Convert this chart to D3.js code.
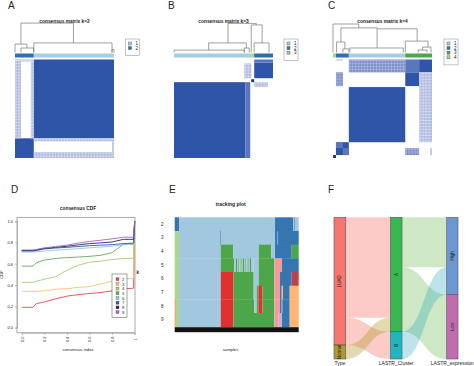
<!DOCTYPE html>
<html>
<head>
<meta charset="utf-8">
<script src="https://d3js.org/d3.v7.min.js"></script>
<style>
  html, body { margin: 0; padding: 0; background: #fff; }
  svg { display: block; }
  text { font-family: "Liberation Sans", Arial, sans-serif; fill: #222; }
</style>
</head>
<body>
<div id="chart"></div>
<script>
const width = 474,
  height = 366;

// --- consensus matrices: all positions are sample ranks 0-100
// blocks are [rank x0, x1, rank y0, y1, kind]
const blocksA = [
  [19, 100, 0, 80, "solid"], [0, 19, 80, 100, "solid"],
  [0, 6, 0, 80, "speckle"], [16, 19, 2, 80, "speckle"], [0, 19, 0, 2, "speckle"],
  [19, 100, 80, 83, "speckle"], [19, 100, 94, 100, "speckle"], [98, 100, 83, 94, "speckle"]
];
const blocksB = [
  [0, 72, 23, 100, "solid"], [72, 77, 23, 100, "medium"], [81, 100, 3, 19, "solid"], [81, 100, 0, 3, "medium"],
  [78, 81, 20, 23, "dark"], [71, 78, 4, 19, "speckle"], [81, 95, 23, 28, "speckle"]
];
const blocksC = [
  [16, 73, 28, 84, "solid"], [73, 87, 13, 27, "solid"], [87, 100, 0, 13, "solid"],
  [73, 87, 0, 13, "medium"], [16, 73, 0, 13, "deep"], [87, 100, 13, 84, "speckle"],
  [3, 10, 13, 27, "deep"], [3, 16, 84, 97, "solid"], [3, 10, 84, 90, "medium"], [10, 16, 90, 97, "medium"],
  [73, 87, 90, 97, "deep"], [0, 3, 97, 100, "dark"], [3, 10, 0, 1, "speckle"], [98, 100, 90, 97, "speckle"]
];

// annotation bars: [end rank, colour]
const barA = [[19, "#2f6fb0"], [100, "#a6cee3"]];
const barB = [[78, "#a6cee3"], [81, "#a8d58a"], [100, "#2f6fb0"]];
const barC = [[3, "#a8d58a"], [16, "#2f6fb0"], [73, "#a6cee3"], [100, "#4ea64a"]];

// dendrogram merges: [left rank, right rank, height, left base, right base]
const treeA = [
  [6, 59, .98, .28, .32], [0, 12, .28, 0, .15], [6, 19, .15, 0, 0], [19, 98, .32, 0, 0], [98, 100, .1, 0, 0]
];
const treeB = [
  [54.5, 83, .97, .31, .92], [78, 89, .92, 0, .32], [81, 96, .32, 0, 0],
  [35, 73, .32, .08, .15], [0, 71, .08, 0, 0], [71, 76, .15, 0, 0]
];
const treeC = [
  [0, 26, .95, 0, .82], [8, 44.5, .82, .35, .79], [3.5, 12, .35, 0, .12], [10, 16, .12, 0, 0],
  [44.5, 85, .79, .15, .38], [17, 71, .15, 0, 0], [73, 96, .38, 0, .18], [90.5, 99, .18, .08, 0], [86, 95, .08, 0, 0]
];

const legendA = [["1", "#a6cee3"], ["2", "#2f6fb0"]];
const legendB = [["1", "#a6cee3"], ["2", "#2f6fb0"], ["3", "#a8d58a"]];
const legendC = [["1", "#a6cee3"], ["2", "#2f6fb0"], ["3", "#4ea64a"], ["4", "#a8d58a"]];

// --- CDF curves
const cdfX = [0, .1, .13, .2, .3, .4, .5, .6, .7, .8, .9, .99, 1];
const cdf2 = [.19, .19, .225, .24, .27, .295, .31, .32, .33, .345, .365, .37, 1];
const cdf3 = [.34, .34, .341, .345, .36, .365, .378, .385, .41, .437, .46, .462, 1];
const cdf4 = [.425, .425, .435, .455, .478, .54, .585, .615, .625, .64, .65, .652, 1];
const cdf5 = [.578, .578, .61, .635, .65, .658, .663, .67, .68, .705, .785, .785, 1];
const cdf6 = [.71, .71, .713, .72, .728, .735, .742, .75, .757, .765, .78, .79, 1];
const cdf7 = [.72, .72, .725, .74, .748, .755, .762, .77, .775, .78, .79, .795, 1];
const cdf8 = [.725, .725, .73, .745, .755, .765, .778, .79, .797, .805, .83, .83, 1];
const cdf9 = [.73, .73, .735, .75, .762, .775, .795, .81, .822, .835, .85, .85, 1];
const cdfSeries = [cdf2, cdf3, cdf4, cdf5, cdf6, cdf7, cdf8, cdf9];
const cdfLabels = ["2", "3", "4", "5", "6", "7", "8", "9"];
const cdfColors = ["#e8454f", "#fdc06f", "#a3cf72", "#5fb04e", "#90c6e2", "#2a5aa8", "#2c2070", "#a463b8"];

// --- tracking plot: samples ranked 0-372, each row is [end rank, colour key]
const trackRows = ["2", "3", "4", "5", "6", "7", "8", "9"];
const trackColors = {
  lb: "#a2c8e0", bl: "#3575b0", lg: "#acd68c", gr: "#4ea64a", re: "#e0302f",
  pk: "#f59a9a", or: "#fdb56f", dr: "#bf4048", pu: "#c8aed4", do: "#ef8030"
};
const track2 = [[13, "bl"], [301, "lb"], [356, "bl"], [359, "lb"], [362, "bl"], [372, "lb"]];
const track3 = [[13, "lg"], [137, "lb"], [139, "bl"], [301, "lb"], [309, "bl"], [310, "lb"], [372, "bl"]];
const track4 = [[13, "lg"], [138, "lb"], [176, "gr"], [252, "lb"], [290, "gr"], [301, "lb"], [351, "bl"], [372, "gr"]];
const track5 = [
  [13, "lg"], [138, "lb"], [179, "gr"], [184, "lb"], [187, "gr"], [191, "lb"], [194, "gr"], [198, "lb"], [201, "gr"],
  [205, "lb"], [208, "gr"], [212, "lb"], [215, "gr"], [219, "lb"], [222, "gr"], [226, "lb"], [229, "gr"], [237, "lb"],
  [252, "lb"], [299, "gr"], [322, "pk"], [372, "bl"]
];
const track6 = [[13, "lg"], [138, "lb"], [176, "re"], [237, "gr"], [252, "lb"], [299, "gr"], [316, "pk"], [322, "bl"], [351, "bl"], [372, "dr"]];
const track7 = [[13, "lg"], [138, "lb"], [176, "re"], [237, "gr"], [246, "lb"], [251, "gr"], [263, "re"], [299, "gr"], [316, "pk"], [321, "bl"], [325, "or"], [345, "bl"], [372, "or"]];
const track8 = [[3, "do"], [13, "lg"], [138, "lb"], [176, "re"], [239, "gr"], [246, "lb"], [251, "gr"], [263, "re"], [299, "gr"], [316, "pk"], [321, "bl"], [323, "pu"], [345, "bl"], [372, "or"]];
const track9 = [[3, "do"], [13, "lg"], [138, "lb"], [176, "re"], [299, "gr"], [312, "pk"], [322, "pu"], [345, "bl"], [372, "or"]];
const trackData = [track2, track3, track4, track5, track6, track7, track8, track9];

// --- alluvial: counts read from the stratum heights
const typeNodes = [["LUAD", 383, "#f8766d"], ["Normal", 42, "#b09a30"]];
const clusterNodes = [["A", 343, "#38b850"], ["B", 82, "#20b6c0"]];
const exprNodes = [["High", 232, "#6c97d2"], ["Low", 193, "#c26cb0"]];
// flows: [left stack offset, right stack offset, count, colour]
const flowsTypeCluster = [
  [0, 0, 301, "#f8766d"], [301, 343, 82, "#f8766d"], [383, 301, 42, "#b09a30"]
];
const flowsClusterExpr = [
  [0, 0, 150, "#5cae3c"], [150, 232, 193, "#5cae3c"], [343, 150, 82, "#20a6b8"]
];

const svg = d3.select("#chart")
  .append("svg")
  .attr("width", width)
  .attr("height", height)
  .attr("viewBox", [0, 0, width, height]);

svg.append("defs").append("filter")
  .attr("id", "soft")
  .append("feGaussianBlur")
  .attr("stdDeviation", 0.35);

function panelLetter(s, x, y) {
  svg.append("text").attr("x", x).attr("y", y).attr("font-size", 10).text(s);
}
panelLetter("A", 8, 8.5);
panelLetter("B", 168, 8.5);
panelLetter("C", 328, 8.5);
panelLetter("D", 11, 193);
panelLetter("E", 169, 193);
panelLetter("F", 328, 193);

function drawConsensus(left, k, blocks, bar, tree, legend, legendX) {
  const x = d3.scaleLinear().domain([0, 100]).range([left, left + 99]);
  const y = d3.scaleLinear().domain([0, 100]).range([59.5, 158]);
  const h = d3.scaleLinear().domain([0, 1]).range([52.5, 22.5]);
  const g = svg.append("g");

  g.append("text")
    .attr("x", left + 49.5)
    .attr("y", 22.5)
    .attr("text-anchor", "middle")
    .attr("font-size", 4.8)
    .attr("font-weight", "bold")
    .text("consensus matrix k=" + k);

  // dendrogram
  g.append("g").selectAll("path")
    .data(tree)
    .enter()
    .append("path")
    .attr("fill", "none")
    .attr("stroke", "#777")
    .attr("stroke-width", 0.7)
    .attr("d", d => {
      const p = d3.path();
      p.moveTo(x(d[0]), h(d[3]));
      p.lineTo(x(d[0]), h(d[2]));
      p.lineTo(x(d[1]), h(d[2]));
      p.lineTo(x(d[1]), h(d[4]));
      return p.toString();
    });

  // annotation bar
  g.append("g").selectAll("rect")
    .data(bar)
    .enter()
    .append("rect")
    .attr("x", (d, i) => x(i ? bar[i - 1][0] : 0))
    .attr("width", (d, i) => x(d[0]) - x(i ? bar[i - 1][0] : 0))
    .attr("y", 53.5)
    .attr("height", 4)
    .attr("fill", d => d[1]);

  // matrix blocks
  const fills = { solid: "#2f54a8", medium: "#5a76bd", dark: "#1d3a86", speckle: "#aeb8e0", deep: "#7f8ecd" };
  const lineColors = { speckle: "#e2e6f5", deep: "#b4bde3" };
  const cells = g.append("g").attr("filter", "url(#soft)");
  cells.selectAll("rect")
    .data(blocks)
    .enter()
    .append("rect")
    .attr("x", d => x(d[0]))
    .attr("width", d => x(d[1]) - x(d[0]))
    .attr("y", d => y(d[2]))
    .attr("height", d => y(d[3]) - y(d[2]))
    .attr("fill", d => fills[d[4]]);

  // speckled blocks are cut by the paler sample rows and columns
  blocks.filter(d => lineColors[d[4]]).forEach(d => {
    d3.range(d[0] + 1, d[1], 3).forEach(r => {
      cells.append("line")
        .attr("x1", x(r)).attr("x2", x(r))
        .attr("y1", y(d[2])).attr("y2", y(d[3]))
        .attr("stroke", lineColors[d[4]]).attr("stroke-width", 0.6);
    });
    d3.range(d[2] + 1, d[3], 3).forEach(r => {
      cells.append("line")
        .attr("x1", x(d[0])).attr("x2", x(d[1]))
        .attr("y1", y(r)).attr("y2", y(r))
        .attr("stroke", lineColors[d[4]]).attr("stroke-width", 0.6);
    });
  });

  // legend
  const rowH = 4.6;
  const lg = g.append("g").attr("transform", `translate(${legendX},39)`);
  lg.append("rect")
    .attr("width", 14)
    .attr("height", 4 + rowH * legend.length + 3.5)
    .attr("fill", "#fff")
    .attr("stroke", "#888")
    .attr("stroke-width", 0.5);
  lg.selectAll(".sw")
    .data(legend)
    .enter()
    .append("rect")
    .attr("class", "sw")
    .attr("x", 3)
    .attr("y", (d, i) => 3 + i * rowH)
    .attr("width", 3)
    .attr("height", 3)
    .attr("fill", d => d[1])
    .attr("stroke", "#555")
    .attr("stroke-width", 0.4);
  lg.selectAll(".lb")
    .data(legend)
    .enter()
    .append("text")
    .attr("class", "lb")
    .attr("x", 10)
    .attr("y", (d, i) => 6 + i * rowH)
    .attr("font-size", 4.5)
    .text(d => d[0]);
}

drawConsensus(15, 2, blocksA, barA, treeA, legendA, 125.5);
drawConsensus(174, 3, blocksB, barB, treeB, legendB, 284);
drawConsensus(333, 4, blocksC, barC, treeC, legendC, 444);

// --- D: consensus CDF
const cdfXScale = d3.scaleLinear().domain([0, 1]).range([21.7, 134.7]);
const cdfYScale = d3.scaleLinear().domain([0, 1]).range([327.5, 221.3]);
const gD = svg.append("g");

gD.append("rect")
  .attr("x", 17).attr("y", 217.3).attr("width", 118).attr("height", 115.5)
  .attr("fill", "none").attr("stroke", "#888").attr("stroke-width", 0.7);

const cdfLine = d3.line()
  .x((d, i) => cdfXScale(cdfX[i]))
  .y(d => cdfYScale(d));

gD.append("g").selectAll("path")
  .data(cdfSeries)
  .enter()
  .append("path")
  .attr("fill", "none")
  .attr("stroke", (d, i) => cdfColors[i])
  .attr("stroke-width", 0.9)
  .attr("d", cdfLine);

const cdfAxisY = gD.append("g")
  .attr("transform", "translate(17,0)")
  .call(d3.axisLeft(cdfYScale).tickValues([0, .2, .4, .6, .8, 1]).tickFormat(d3.format(".1f")).tickSize(2).tickPadding(2));
const cdfAxisX = gD.append("g")
  .attr("transform", "translate(0,332.8)")
  .call(d3.axisBottom(cdfXScale).tickValues([0, .2, .4, .6, .8, 1]).tickFormat(d => d === 1 ? "1" : d3.format(".1f")(d)).tickSize(2));
[cdfAxisX, cdfAxisY].forEach(a => {
  a.select(".domain").attr("stroke", "#888").attr("stroke-width", 0.5);
  a.selectAll("line").attr("stroke", "#888").attr("stroke-width", 0.5);
  a.selectAll("text").attr("font-size", 4).attr("font-family", "Liberation Sans").attr("fill", "#333");
});
cdfAxisX.selectAll("text")
  .attr("transform", "rotate(-90)")
  .attr("text-anchor", "middle")
  .attr("x", -6.5)
  .attr("y", 0)
  .attr("dy", "0.35em");

gD.append("text").attr("x", 78).attr("y", 210).attr("text-anchor", "middle")
  .attr("font-size", 4.8).attr("font-weight", "bold").text("consensus CDF");
gD.append("text").attr("x", 78).attr("y", 350.5).attr("text-anchor", "middle")
  .attr("font-size", 4.2).text("consensus index");
gD.append("text").attr("transform", "translate(2.5,274.5) rotate(-90)").attr("text-anchor", "middle")
  .attr("font-size", 4.2).text("CDF");
gD.append("text").attr("x", 136.5).attr("y", 274).attr("font-size", 4.5).attr("font-weight", "bold").text("k");

const legD = gD.append("g").attr("transform", "translate(112,274)");
legD.append("rect")
  .attr("width", 15).attr("height", 43.5)
  .attr("fill", "#fff").attr("stroke", "#666").attr("stroke-width", 0.6);
legD.selectAll(".sw")
  .data(cdfLabels)
  .enter()
  .append("rect")
  .attr("class", "sw")
  .attr("x", 4)
  .attr("y", (d, i) => 3.7 + i * 4.7)
  .attr("width", 3)
  .attr("height", 3)
  .attr("fill", (d, i) => cdfColors[i])
  .attr("stroke", "#555")
  .attr("stroke-width", 0.3);
legD.selectAll(".lb")
  .data(cdfLabels)
  .enter()
  .append("text")
  .attr("class", "lb")
  .attr("x", 10)
  .attr("y", (d, i) => 6.8 + i * 4.7)
  .attr("font-size", 4.2)
  .text(d => d);

// --- E: tracking plot
const trackX = d3.scaleLinear().domain([0, 372]).range([174.7, 298.7]);
const trackY = d3.scaleBand().domain(trackRows).range([217.3, 326.7]);
const gE = svg.append("g");

trackData.forEach((row, r) => {
  gE.append("g")
    .selectAll("rect")
    .data(row)
    .enter()
    .append("rect")
    .attr("x", (d, i) => trackX(i ? row[i - 1][0] : 0))
    .attr("width", (d, i) => trackX(d[0]) - trackX(i ? row[i - 1][0] : 0))
    .attr("y", trackY(trackRows[r]))
    .attr("height", trackY.bandwidth() + 0.3)
    .attr("fill", d => trackColors[d[1]]);
});

gE.append("rect")
  .attr("x", trackX(0)).attr("width", trackX(372) - trackX(0))
  .attr("y", 327.2).attr("height", 5)
  .attr("fill", "#111");

const trackAxis = gE.append("g")
  .attr("transform", "translate(163.5,0)")
  .call(d3.axisLeft(trackY).tickSize(0).tickPadding(0));
trackAxis.select(".domain").remove();
trackAxis.selectAll("text").attr("font-size", 4.5).attr("font-family", "Liberation Sans").attr("fill", "#222");

gE.append("text").attr("x", 230.7).attr("y", 205.5).attr("text-anchor", "middle")
  .attr("font-size", 5).attr("font-weight", "bold").text("tracking plot");
gE.append("text").attr("x", 230.5).attr("y", 351).attr("text-anchor", "middle")
  .attr("font-size", 4.2).text("samples");

// --- F: alluvial
const flowY = d3.scaleLinear().domain([0, 425]).range([217.3, 359]);
const gF = svg.append("g");
const columns = [
  { x0: 334, x1: 345.7, nodes: typeNodes, name: "Type" },
  { x0: 390.3, x1: 402, nodes: clusterNodes, name: "LASTR_Cluster" },
  { x0: 446.7, x1: 458, nodes: exprNodes, name: "LASTR_expression" }
];

const flowArea = d3.area()
  .x(d => d.x)
  .y0(d => flowY(d.y))
  .y1(d => flowY(d.y + d.n))
  .curve(d3.curveBumpX);

function drawFlows(flows, xa, xb, opacity) {
  gF.append("g").selectAll("path")
    .data(flows)
    .enter()
    .append("path")
    .attr("fill", d => d[3])
    .attr("fill-opacity", opacity)
    .attr("d", d => flowArea([{ x: xa, y: d[0], n: d[2] }, { x: xb, y: d[1], n: d[2] }]));
}
drawFlows(flowsTypeCluster, columns[0].x1, columns[1].x0, 0.38);
drawFlows(flowsClusterExpr, columns[1].x1, columns[2].x0, 0.3);

columns.forEach(col => {
  const stack = d3.cumsum(col.nodes, d => d[1]);
  const g = gF.append("g");
  g.selectAll("rect")
    .data(col.nodes)
    .enter()
    .append("rect")
    .attr("x", col.x0)
    .attr("width", col.x1 - col.x0)
    .attr("y", (d, i) => flowY(i ? stack[i - 1] : 0))
    .attr("height", d => flowY(d[1]) - flowY(0))
    .attr("fill", d => d[2])
    .attr("stroke", "#555")
    .attr("stroke-width", 0.6);
  g.selectAll("text")
    .data(col.nodes)
    .enter()
    .append("text")
    .attr("transform", (d, i) => {
      const cy = flowY((i ? stack[i - 1] : 0) + d[1] / 2);
      return `translate(${(col.x0 + col.x1) / 2},${cy}) rotate(-90)`;
    })
    .attr("text-anchor", "middle")
    .attr("dy", "0.35em")
    .attr("font-size", 4.5)
    .text(d => d[0]);
  gF.append("text")
    .attr("x", (col.x0 + col.x1) / 2)
    .attr("y", 365)
    .attr("text-anchor", "middle")
    .attr("font-size", 5)
    .text(col.name);
});
</script>
</body>
</html>
